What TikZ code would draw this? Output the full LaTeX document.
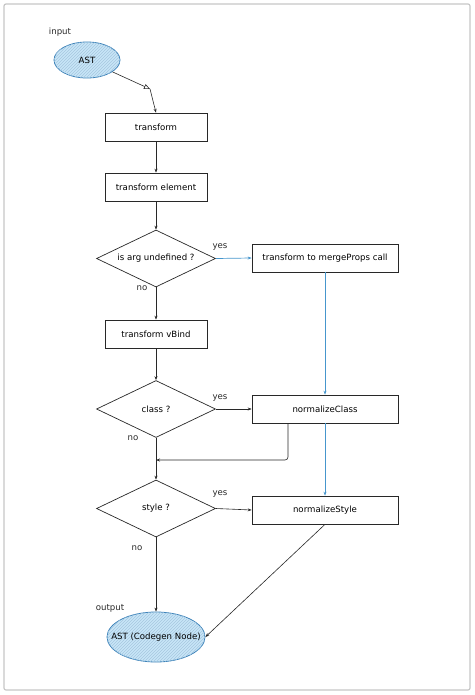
\documentclass[tikz,border=0pt]{standalone}
\usepackage{fontspec}
\setmainfont{DejaVu Sans}
\usetikzlibrary{shapes.geometric,arrows.meta,patterns}
\definecolor{ink}{RGB}{40,40,40}
\definecolor{flowblue}{RGB}{70,150,205}
\definecolor{ellfill}{RGB}{200,230,248}
\definecolor{ellline}{RGB}{60,130,185}
\begin{document}
\begin{tikzpicture}[x=1pt,y=-1pt,
  font=\fontsize{8.6}{10}\selectfont,
  stepbox/.style={draw=ink,line width=0.7pt,rectangle,minimum width=102pt,minimum height=28pt,inner sep=0pt},
  widebox/.style={stepbox,minimum width=146pt},
  decide/.style={draw=ink,line width=0.7pt,diamond,minimum width=119pt,minimum height=57pt,inner sep=0pt,shape aspect=2},
  term/.style={ellipse,draw=ellline,line width=0.8pt,fill=ellfill,inner sep=0pt,
     postaction={pattern=north east lines,pattern color=ellline!45}},
  lbl/.style={inner sep=0pt,text=ink},
  conn/.style={draw=ink,line width=0.6pt,-{Stealth[length=4pt,width=3pt]}},
  bconn/.style={draw=flowblue,line width=0.7pt,-{Stealth[length=4pt,width=3pt]}}
]
\useasboundingbox (0,0) rectangle (474,695);
\draw[gray!45,line width=1.2pt,rounded corners=2pt] (4,4) rectangle (470,690);

\node[lbl] (inlbl) at (60,32) {input};
\node[term,minimum width=66pt,minimum height=36pt] (ast) at (87,60) {AST};
\node[stepbox] (tr) at (156,127) {transform};
\node[stepbox] (tre) at (156,187) {transform element};
\node[decide] (d1) at (156,258.5) {is arg undefined ?};
\node[widebox] (mp) at (325,258) {transform to mergeProps call};
\node[lbl] (y1) at (220,247) {yes};
\node[lbl] (n1) at (142,288) {no};
\node[stepbox] (vb) at (156,334) {transform vBind};
\node[decide] (d2) at (156,409) {class ?};
\node[widebox] (nc) at (325,409) {normalizeClass};
\node[lbl] (y2) at (220,398) {yes};
\node[lbl] (n2) at (133,438) {no};
\node[decide] (d3) at (156,508.5) {style ?};
\node[widebox] (ns) at (325,510) {normalizeStyle};
\node[lbl] (y3) at (220,494) {yes};
\node[lbl] (n3) at (137,548) {no};
\node[lbl] (outlbl) at (110,608) {output};
\node[term,minimum width=98pt,minimum height=50pt,inner xsep=-11pt] (out) at (156,637) {AST (Codegen Node)};

\coordinate (kink) at (150,89);
\coordinate (join) at (156,460);
\coordinate (ncdrop) at (288,423);

\draw[ink,line width=0.6pt,-{Triangle[open,length=6pt,width=5pt]}] (ast.-25) -- (kink);
\draw[conn] (kink) -- (tr.north);
\draw[conn] (tr) -- (tre);
\draw[conn] (tre) -- (d1);
\draw[bconn] (d1.east) -- (mp.west);
\draw[conn] (d1.south) -- (vb.north);
\draw[conn] (vb) -- (d2);
\draw[conn] (d2.east) -- (nc.west);
\draw[bconn] (mp) -- (nc);
\draw[conn] (d2.south) -- (d3.north);
\draw[conn,rounded corners=3pt] (ncdrop) -- (ncdrop |- join) -- (join);
\draw[bconn] (nc) -- (ns);
\draw[conn] (d3.east) -- (ns.west);
\draw[conn] (d3.south) -- (out.north);
\draw[conn] (ns.south) -- (out.east);
\end{tikzpicture}
\end{document}
